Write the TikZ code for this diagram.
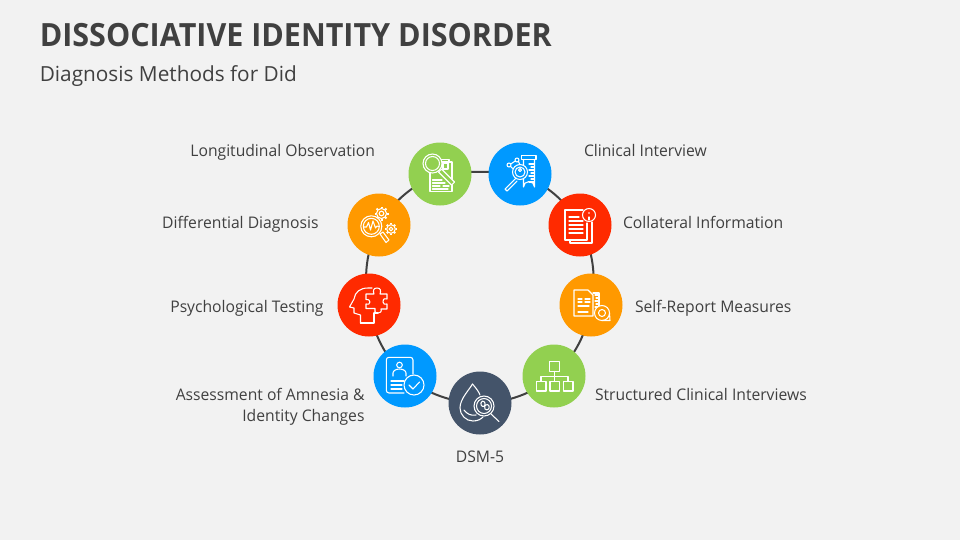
\documentclass[tikz,border=0pt]{standalone}
\usepackage{fontspec}
\setmainfont[FakeStretch=0.98]{Open Sans}
\newfontfamily\titlefont[FakeStretch=0.953]{Open Sans}
\newfontfamily\subfont{Open Sans}
\usetikzlibrary{calc,backgrounds}
\definecolor{bgc}{HTML}{F2F2F2}
\definecolor{txt}{HTML}{404040}
\definecolor{ring}{HTML}{404040}
\definecolor{cgreen}{HTML}{92D050}
\definecolor{cblue}{HTML}{0099FF}
\definecolor{cred}{HTML}{FF2A00}
\definecolor{corange}{HTML}{FF9900}
\definecolor{cdark}{HTML}{44546A}
\tikzset{
  disc/.style={circle,minimum size=47.25pt,inner sep=0pt,outer sep=0pt},
  lab/.style={inner sep=0pt,outer sep=0pt,text=txt,font=\fontsize{12}{15.75}\selectfont},
  link/.style={draw=ring,line width=1.5pt,bend left=20,looseness=0.88},
  icon/.style={draw=white,line width=0.8pt,line join=round,line cap=round},
}
\newcommand{\gearicon}[3]{%
  \foreach \ga in {0,45,...,315}{
    \draw[icon,line cap=butt,line width=1.5pt] ($(#1,#2)+(\ga:#3*0.78)$) -- ($(#1,#2)+(\ga:#3)$);
  }
  \draw[icon] (#1,#2) circle[radius=#3*0.72];
  \draw[icon] (#1,#2) circle[radius=#3*0.33];
}
\begin{document}
\begin{tikzpicture}[x=0.75pt,y=-0.75pt]
\useasboundingbox (0,0) rectangle (960,540);
\node[anchor=base west,inner sep=0pt,text=txt,font=\fontsize{24}{28}\selectfont\titlefont\bfseries] (title) at (39.5,46) {DISSOCIATIVE IDENTITY DISORDER};
\node[anchor=base west,inner sep=0pt,text=txt,font=\fontsize{15.6}{18}\selectfont\subfont] (subtitle) at (39.5,81.2) {Diagnosis Methods for Did};

\node[disc,fill=cgreen] (n1) at (440,174) {};
\node[disc,fill=cblue] (n2) at (520,174) {};
\node[disc,fill=cred] (n3) at (580,225) {};
\node[disc,fill=corange] (n4) at (591,305) {};
\node[disc,fill=cgreen] (n5) at (554,376) {};
\node[disc,fill=cdark] (n6) at (480,403) {};
\node[disc,fill=cblue] (n7) at (405,376) {};
\node[disc,fill=cred] (n8) at (369,305) {};
\node[disc,fill=corange] (n9) at (379,225) {};

\begin{pgfonlayer}{background}
\fill[bgc] (0,0) rectangle (960,540);
\draw[link,bend left=6] (n1.center) to (n2.center);
\draw[link] (n2.center) to (n3.center);
\draw[link] (n3.center) to (n4.center);
\draw[link] (n4.center) to (n5.center);
\draw[link] (n5.center) to (n6.center);
\draw[link] (n6.center) to (n7.center);
\draw[link] (n7.center) to (n8.center);
\draw[link] (n8.center) to (n9.center);
\draw[link] (n9.center) to (n1.center);
\end{pgfonlayer}

\node[lab,anchor=base east] (l1) at (375,156.2) {Longitudinal Observation};
\node[lab,anchor=base west] (l2) at (584,156.2) {Clinical Interview};
\node[lab,anchor=base west] (l3) at (623,228.2) {Collateral Information};
\node[lab,anchor=base west] (l4) at (635,312.2) {Self-Report Measures};
\node[lab,anchor=base west] (l5) at (595,400.2) {Structured Clinical Interviews};
\node[lab,anchor=base] (l6) at (480,462.2) {DSM-5};
\node[lab,anchor=base east,align=right] (l7) at (364.5,421.2) {Assessment of Amnesia \&\\Identity Changes};
\node[lab,anchor=base east] (l8) at (323.5,312.2) {Psychological Testing};
\node[lab,anchor=base east] (l9) at (318.5,228.2) {Differential Diagnosis};

% icon 1: longitudinal
\begin{scope}[shift={(440,174)}]
  \draw[icon] (-4,-8) -- (-4,-12) -- (12,-12) -- (12,17.5) -- (-10,17.5) -- (-10,-1);
  \draw[icon] (-3,-14.5) -- (9,-14.5) -- (9,-12);
  \draw[icon] (3,-11) rectangle (8,-5);
  \draw[icon] (-7.5,6) -- (2,6) (-7.5,9) -- (5,9) (-7.5,12) -- (0,12) (3,12) -- (9,12) (-7.5,15) -- (8,15);
  \fill[cgreen] (-7.5,-10.5) circle[radius=9.5];
  \draw[icon] (-7.5,-10.5) circle[radius=9.5];
  \draw[icon] (-7.5,-10.5) circle[radius=7];
  \draw[icon,fill=cgreen] (0,-3.5) -- (1.5,-5) -- (14.5,8) -- (11.5,11) -- (-1.5,-2) -- cycle;
\end{scope}
% icon 2: clinical
\begin{scope}[shift={(520,174)}]
  \draw[icon] (1.5,-18.5) rectangle (16,-14.5);
  \draw[icon] (3.5,-14.5) -- (3.5,13) arc[start angle=180,end angle=0,x radius=5.5,y radius=-5.5] -- (14.5,-14.5);
  \draw[icon] (9,-10) -- (14,-10) (11,-7) -- (14,-7) (9,-4) -- (14,-4) (11,-1) -- (14,-1) (9,2) -- (14,2) (11,5) -- (14,5) (9,8) -- (14,8);
  \draw[icon] (-11,-9) circle[radius=2];
  \draw[icon] (-3,-14) circle[radius=2];
  \draw[icon] (-9.3,-10) -- (-4.7,-13) (-1.5,-12.5) -- (0,-9) (-9.5,-7.5) -- (-5.5,-4);
  \fill[cblue] (0,-2) circle[radius=7.5];
  \draw[icon] (0,-2) circle[radius=7.5];
  \draw[icon] (0,-2) circle[radius=5];
  \draw[icon] (0,-4) circle[radius=1.5];
  \draw[icon] (-4,4) -- (-15,15) -- (-13,17) -- (-3,7);
\end{scope}
% icon 3: collateral
\begin{scope}[shift={(580,225)}]
  \draw[icon] (-10,15) -- (-10,18) -- (12,18) -- (12,-3);
  \draw[icon] (-15,15) -- (-15,-15) -- (3,-15);
  \draw[icon] (-15,15) -- (7,15) -- (7,-2);
  \draw[icon] (-11,-8) -- (-1,-8) (-11,-4) -- (3,-4) (-11,0) -- (3,0) (-11,4) -- (3,4) (-11,8) -- (3,8);
  \draw[icon,fill=cred] (9,-10) circle[radius=6.5];
  \draw[icon] (9,-8) -- (9,-5);
  \fill[white] (9,-12) circle[radius=0.8];
\end{scope}
% icon 4: self report
\begin{scope}[shift={(591,305)}]
  \draw[icon] (-17,-15) -- (-3,-15) -- (2,-10) -- (2,11) -- (-17,11) -- cycle;
  \draw[icon] (2,-12) -- (8,-12) -- (8,3);
  \draw[icon] (4,-10) -- (7,-10) (5,-7) -- (7,-7) (4,-4) -- (7,-4) (5,-1) -- (7,-1) (4,2) -- (7,2);
  \draw[icon] (-13,-6) -- (-9,-6) (-6,-6) -- (-1,-6) (-13,-3) -- (-9,-3) (-6,-3) -- (-1,-3) (-13,1) -- (-2,1) (-13,7) -- (-3,7);
  \draw[icon,fill=corange] (11,8) circle[radius=7.5];
  \draw[icon] (11,8) circle[radius=3.5];
  \draw[icon] (11,15.5) -- (19,15.5) -- (18.5,8);
\end{scope}
% icon 5: structured
\begin{scope}[shift={(554,376)}]
  \draw[icon] (-4.5,-14.5) rectangle (5.5,-4.5);
  \draw[icon] (-17.5,5.5) rectangle (-8,15);
  \draw[icon] (-4,5.5) rectangle (5.5,15);
  \draw[icon] (9.5,5.5) rectangle (19,15);
  \draw[icon] (0.5,-4.5) -- (0.5,5.5) (-13,5.5) -- (-13,0.5) -- (14,0.5) -- (14,5.5);
\end{scope}
% icon 6: DSM
\begin{scope}[shift={(480,403)}]
  \draw[icon] (-7.5,-19) .. controls (-4,-15) and (-1,-11) .. (0,-8);
  \draw[icon] (-7.5,-19) .. controls (-11,-13) and (-20,-4) .. (-20,5) .. controls (-20,12) and (-14,18) .. (-7,18) .. controls (-2,18) and (1,16) .. (3,14);
  \draw[icon] (-16,7) .. controls (-13,11) and (-9,13) .. (-4,12);
  \fill[cdark] (4,3) circle[radius=10];
  \draw[icon] (4,3) circle[radius=10];
  \draw[icon] (4,3) circle[radius=7.5];
  \draw[icon] (1,0) .. controls (2,-4) and (6,-1) .. (5,2) .. controls (4,5) and (0,3) .. (1,0);
  \draw[icon] (5,6) .. controls (3,2) and (8,0) .. (9,3) .. controls (10,6) and (7,8) .. (5,6);
  \draw[icon] (11,11) -- (19,18.5);
\end{scope}
% icon 7: assessment
\begin{scope}[shift={(405,376)}]
  \draw[icon,rounded corners=2pt] (-1,17) -- (-18.7,17) -- (-18.7,-18.7) -- (8,-18.7) -- (8,-2);
  \draw[icon] (-5.5,-11) circle[radius=2.8];
  \draw[icon] (-12,0) -- (-12,-3) arc[start angle=180,end angle=0,x radius=6.5,y radius=-4] -- (1,0);
  \draw[icon] (-14,5) -- (-1,5) (-14,9) -- (-3,9) (-14,13) -- (-3,13);
  \draw[icon,fill=cblue] (9,9) circle[radius=10];
  \draw[icon] (4,9) -- (8,13) -- (14.5,6);
\end{scope}
% icon 8: psychological
\begin{scope}[shift={(369,305)}]
  \draw[icon] (-8.5,18) -- (-8.5,10) -- (-15,8) -- (-15,3) -- (-19.5,2) -- (-15,-6) .. controls (-14,-13) and (-9,-17) .. (-1,-17) -- (3,-17);
  \draw[icon] (-8.5,18) -- (5,18) -- (5,8);
  \draw[icon] (5,8) -- (9,8);
  \draw[icon] (-3,-11) -- (5,-11) .. controls (4,-14) and (4,-17) .. (8,-17) .. controls (12,-17) and (12,-14) .. (11,-11) -- (18,-11) -- (18,-6) .. controls (15,-7) and (13,-5) .. (14,-3) .. controls (14,-1) and (16,0) .. (18,-1) -- (18,4) -- (12,4) .. controls (13,7) and (11,8) .. (9,8) .. controls (6,8) and (5,6) .. (6,3.5) -- (-3,3.5) -- (-3,-1) .. controls (-1,0) and (1,-1) .. (1,-3) .. controls (1,-5) and (-1,-6) .. (-3,-5.5) -- cycle;
\end{scope}
% icon 9: differential
\begin{scope}[shift={(379,225)}]
  \gearicon{2.5}{-11.5}{7}
  \gearicon{12}{4}{6}
  \fill[corange] (-7.7,1.3) circle[radius=10.5];
  \draw[icon] (-7.7,1.3) circle[radius=10.5];
  \draw[icon] (-7.7,1.3) circle[radius=8];
  \draw[icon] (-15,2) -- (-12.5,2) -- (-10.5,-2.5) -- (-8.5,5) -- (-6,-4) -- (-3.5,3) -- (-2,1) -- (-0.5,1.5);
  \draw[icon] (1,9) -- (4,7) -- (10,15) -- (7,17.5) -- cycle;
\end{scope}
\end{tikzpicture}
\end{document}
